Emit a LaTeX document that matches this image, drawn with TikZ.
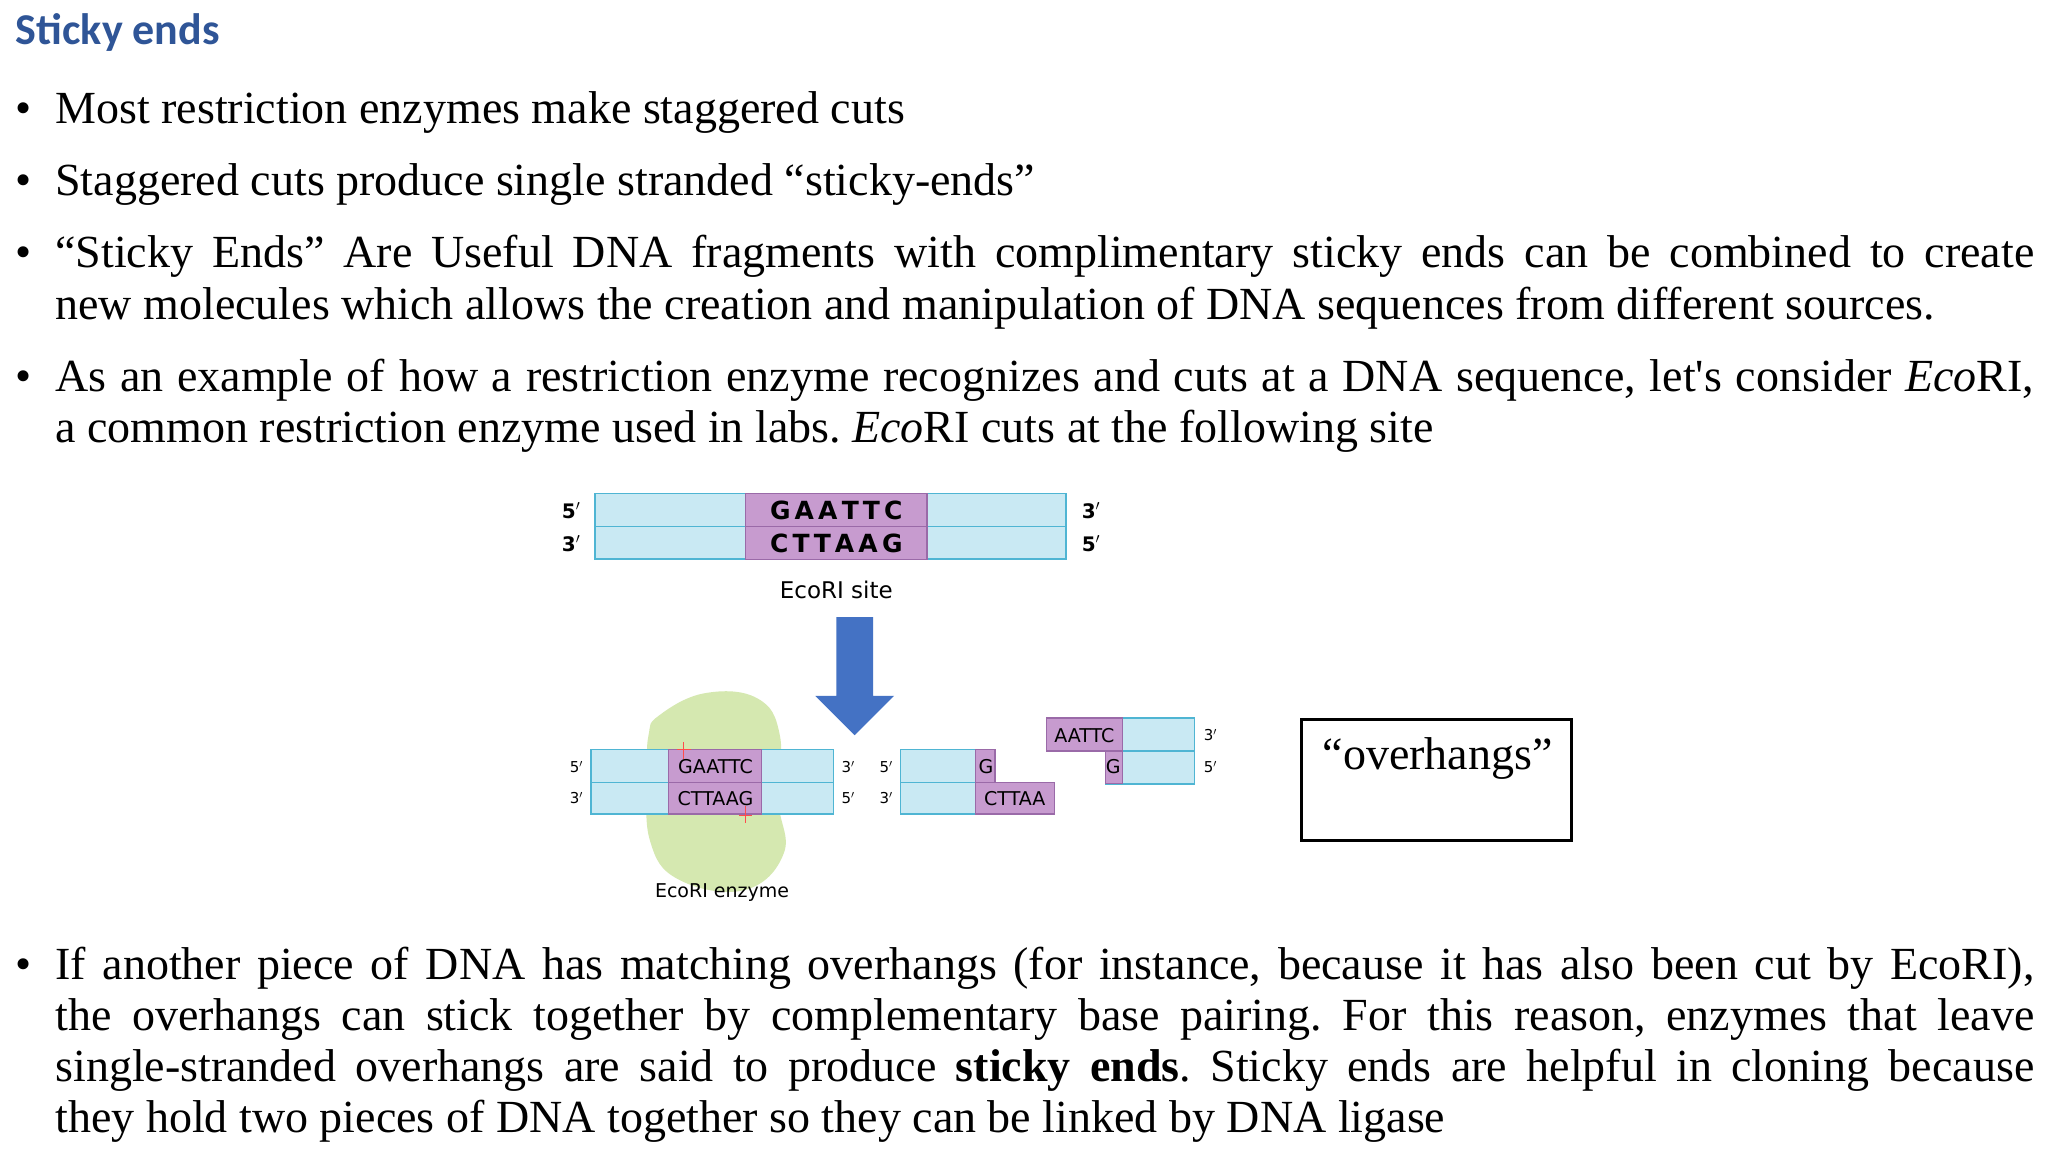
\documentclass[tikz,border=0pt]{standalone}
\usepackage{fontspec}
\setmainfont{Liberation Serif}
\newfontfamily\titlef{Carlito}
\newfontfamily\handf{DejaVu Sans}
\newfontfamily\plainf[Mapping=]{Liberation Serif}
\definecolor{dnab}{HTML}{C9E9F3}
\definecolor{dnal}{HTML}{4FB5D3}
\definecolor{purp}{HTML}{C79BCF}
\definecolor{purl}{HTML}{9A6AA8}
\definecolor{titleb}{HTML}{2F5597}
\definecolor{arrowb}{HTML}{4472C4}
\definecolor{blob}{HTML}{D5E8B0}
\frenchspacing
\begin{document}
\begin{tikzpicture}[x=1.3128pt,y=-1.3128pt,
  body/.style={anchor=base west,inner sep=0pt,font=\fontsize{46}{51}\selectfont},
  bul/.style={anchor=base west,inner sep=0pt,font=\fontsize{46}{51}\selectfont},
  blu/.style={fill=dnab,draw=dnal,line width=1.6pt},
  pur/.style={fill=purp,draw=purl,line width=1.4pt},
  seq/.style={inner sep=0pt,font=\handf\bfseries\fontsize{25}{25}\selectfont},
  sseq/.style={inner sep=0pt,font=\handf\fontsize{19}{19}\selectfont},
  lab/.style={inner sep=0pt,font=\handf\bfseries\fontsize{20}{20}\selectfont},
  slab/.style={inner sep=0pt,font=\handf\fontsize{15}{15}\selectfont}]
\useasboundingbox[fill=white] (0,0) rectangle (1560,877.5);
\node[anchor=west,inner sep=0pt,text=titleb,font=\titlef\bfseries\fontsize{44}{44}\selectfont] (title) at (12,25) {Sticky ends};
\def\W{1979pt}
\foreach \yy [count=\i] in {94,149,204,298,746} {\node[bul] (b\i) at (12,\yy) {•};}
\node[body] (l1) at (42,94) {Most restriction enzymes make staggered cuts};
\node[body] (l2) at (42,149) {Staggered cuts produce single stranded “sticky-ends”};
\node[body] (l3a) at (42,204) {\hbox to \W{“Sticky Ends” Are Useful DNA fragments with complimentary sticky ends can be combined to create}};
\node[body] (l3b) at (42,243) {new molecules which allows the creation and manipulation of DNA sequences from different sources.};
\node[body] (l4a) at (42,298) {\hbox to \W{As an example of how a restriction enzyme recognizes and cuts at a DNA sequence, let{\plainf\symbol{39}}s consider \textit{Eco}RI,}};
\node[body] (l4b) at (42,337) {a common restriction enzyme used in labs. \textit{Eco}RI cuts at the following site};
\node[body] (l5a) at (42,746) {\hbox to \W{If another piece of DNA has matching overhangs (for instance, because it has also been cut by EcoRI),}};
\node[body] (l5b) at (42,785) {\hbox to \W{the overhangs can stick together by complementary base pairing. For this reason, enzymes that leave}};
\node[body] (l5c) at (42,824) {\hbox to \W{single-stranded overhangs are said to produce \textbf{sticky ends}. Sticky ends are helpful in cloning because}};
\node[body] (l5d) at (42,863) {they hold two pieces of DNA together so they can be linked by DNA ligase};
% top DNA
\draw[blu] (453,376) rectangle (812,401);
\draw[blu] (453,401) rectangle (812,426);
\draw[pur] (568,376) rectangle (706,401);
\draw[pur] (568,401) rectangle (706,426);
\node[seq] (s1) at (637,389) {G\,A\,A\,T\,T\,C};
\node[seq] (s2) at (637,414) {C\,T\,T\,A\,A\,G};
\node[lab] (t5) at (435,389) {5$'$};
\node[lab] (t3) at (435,414) {3$'$};
\node[lab] (t3r) at (831,389) {3$'$};
\node[lab] (t5r) at (831,414) {5$'$};
\node[inner sep=0pt,font=\handf\fontsize{23}{23}\selectfont] (site) at (637,449) {EcoRI site};
% arrow
\fill[arrowb] (637,470) -- (665,470) -- (665,530) -- (681,530) -- (651,560) -- (621,530) -- (637,530) -- cycle;
% enzyme
\fill[blob] plot[smooth cycle,tension=0.7] coordinates {(502,545) (537,528) (577,532) (594,560) (593,610) (597,650) (567,678) (517,670) (495,640) (493,590) (494,560)};
% left fragment
\draw[blu] (450,571) rectangle (635,596);
\draw[blu] (450,596) rectangle (635,620);
\draw[pur] (509,571) rectangle (580,596);
\draw[pur] (509,596) rectangle (580,620);
\draw[red!70,line width=1pt] (521,565) -- (521,578) (516,571) -- (526,571);
\draw[red!70,line width=1pt] (568,614) -- (568,627) (563,621) -- (573,621);
\node[sseq] (e1) at (545,584) {GAATTC};
\node[sseq] (e2) at (545,608) {CTTAAG};
\node[slab] (e5) at (439,584) {5$'$};
\node[slab] (e3) at (439,608) {3$'$};
\node[slab] (e3r) at (646,584) {3$'$};
\node[slab] (e5r) at (646,608) {5$'$};
\node[inner sep=0pt,font=\handf\fontsize{19}{19}\selectfont] (enz) at (550,680) {EcoRI enzyme};
% fragment 2
\draw[blu] (686,571) rectangle (758,596);
\draw[blu] (686,596) rectangle (803,620);
\draw[pur] (743,571) rectangle (758,596);
\draw[pur] (743,596) rectangle (803,620);
\node[sseq] (f1) at (751,584) {G};
\node[sseq] (f2) at (773,608) {CTTAA};
\node[slab] (f5) at (675,584) {5$'$};
\node[slab] (f3) at (675,608) {3$'$};
% fragment 3
\draw[blu] (797,547) rectangle (910,572);
\draw[blu] (842,572) rectangle (910,597);
\draw[pur] (797,547) rectangle (855,572);
\draw[pur] (842,572) rectangle (855,597);
\node[sseq] (g1) at (826,560) {AATTC};
\node[sseq] (g2) at (848,584) {G};
\node[slab] (g3) at (922,560) {3$'$};
\node[slab] (g5) at (922,584) {5$'$};
% overhangs box
\draw[line width=3pt] (991,548) rectangle (1197,640);
\node[inner sep=0pt,font=\fontsize{46}{46}\selectfont] (ov) at (1095,578) {“overhangs”};
\end{tikzpicture}
\end{document}
